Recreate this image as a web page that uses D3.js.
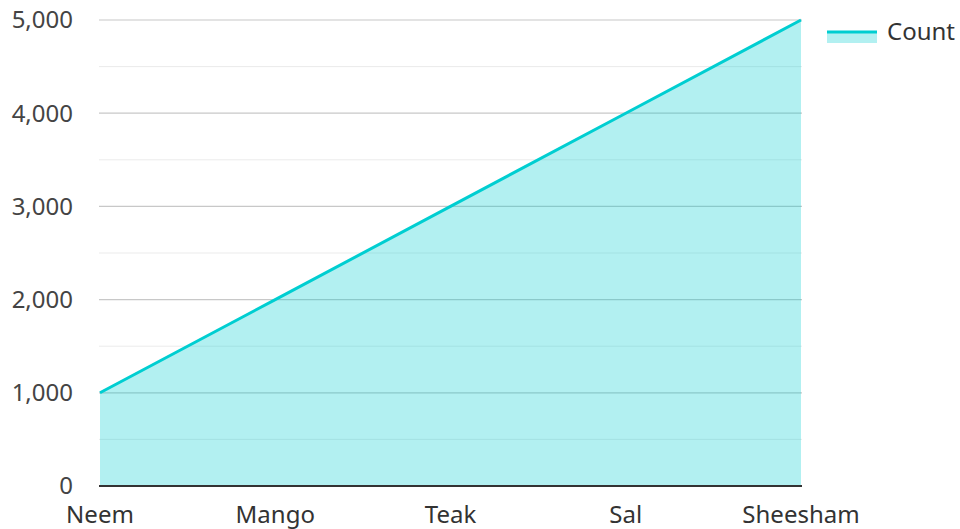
<!DOCTYPE html>
<html><head><meta charset="utf-8">
<script src="https://cdn.jsdelivr.net/npm/d3@7"></script>
<style>body{margin:0;background:#fff}svg{display:block}</style>
</head><body>
<svg id="c" width="960" height="529"></svg>
<script>
const categories = ["Neem","Mango","Teak","Sal","Sheesham"];
const counts = [1000,2000,3000,4000,5000];
const majorTicks = [0,1000,2000,3000,4000,5000];
const minorTicks = [500,1500,2500,3500,4500];
const seriesName = "Count";

const svg = d3.select("#c");
const font = "'Noto Sans', 'Open Sans', sans-serif";
const fs = 24;
const x = d3.scalePoint().domain(categories).range([100, 801]);
const y = d3.scaleLinear().domain([0,5000]).range([486, 20]);
const color = "#00CED1";

const g = svg.append("g");
g.selectAll(".minor").data(minorTicks).join("line")
  .attr("x1",99).attr("x2",802).attr("y1",d=>y(d)).attr("y2",d=>y(d))
  .attr("stroke","#ebebeb").attr("stroke-width",1);
g.selectAll(".major").data(majorTicks.filter(d=>d>0)).join("line")
  .attr("x1",99).attr("x2",802).attr("y1",d=>y(d)).attr("y2",d=>y(d))
  .attr("stroke","#c8c8c8").attr("stroke-width",1.2);

const data = categories.map((c,i)=>({c,v:counts[i]}));
g.append("path").datum(data)
  .attr("d", d3.area().x(d=>x(d.c)).y0(y(0)).y1(d=>y(d.v)))
  .attr("fill",color).attr("fill-opacity",0.3);
g.append("path").datum(data)
  .attr("d", d3.line().x(d=>x(d.c)).y(d=>y(d.v)))
  .attr("fill","none").attr("stroke",color).attr("stroke-width",3);

g.append("line").attr("x1",99).attr("x2",802).attr("y1",y(0)).attr("y2",y(0))
  .attr("stroke","#333").attr("stroke-width",2);

const fmt = d3.format(",");
g.selectAll(".yl").data(majorTicks).join("text")
  .attr("x",73).attr("y",d=>y(d)).attr("dy","0.35em")
  .attr("text-anchor","end").attr("font-family",font).attr("font-size",fs)
  .attr("fill","#444").text(d=>fmt(d));
g.selectAll(".xl").data(categories).join("text")
  .attr("x",d=>x(d)).attr("y",523)
  .attr("text-anchor","middle").attr("font-family",font).attr("font-size",fs)
  .attr("fill","#333").text(d=>d);

const lg = svg.append("g");
lg.append("rect").attr("x",827).attr("y",32).attr("width",50).attr("height",11)
  .attr("fill",color).attr("fill-opacity",0.3);
lg.append("line").attr("x1",827).attr("x2",877).attr("y1",32).attr("y2",32)
  .attr("stroke",color).attr("stroke-width",3);
lg.append("text").attr("x",887).attr("y",40).attr("font-family",font).attr("font-size",fs)
  .attr("fill","#333").text(seriesName);
</script>
</body></html>
